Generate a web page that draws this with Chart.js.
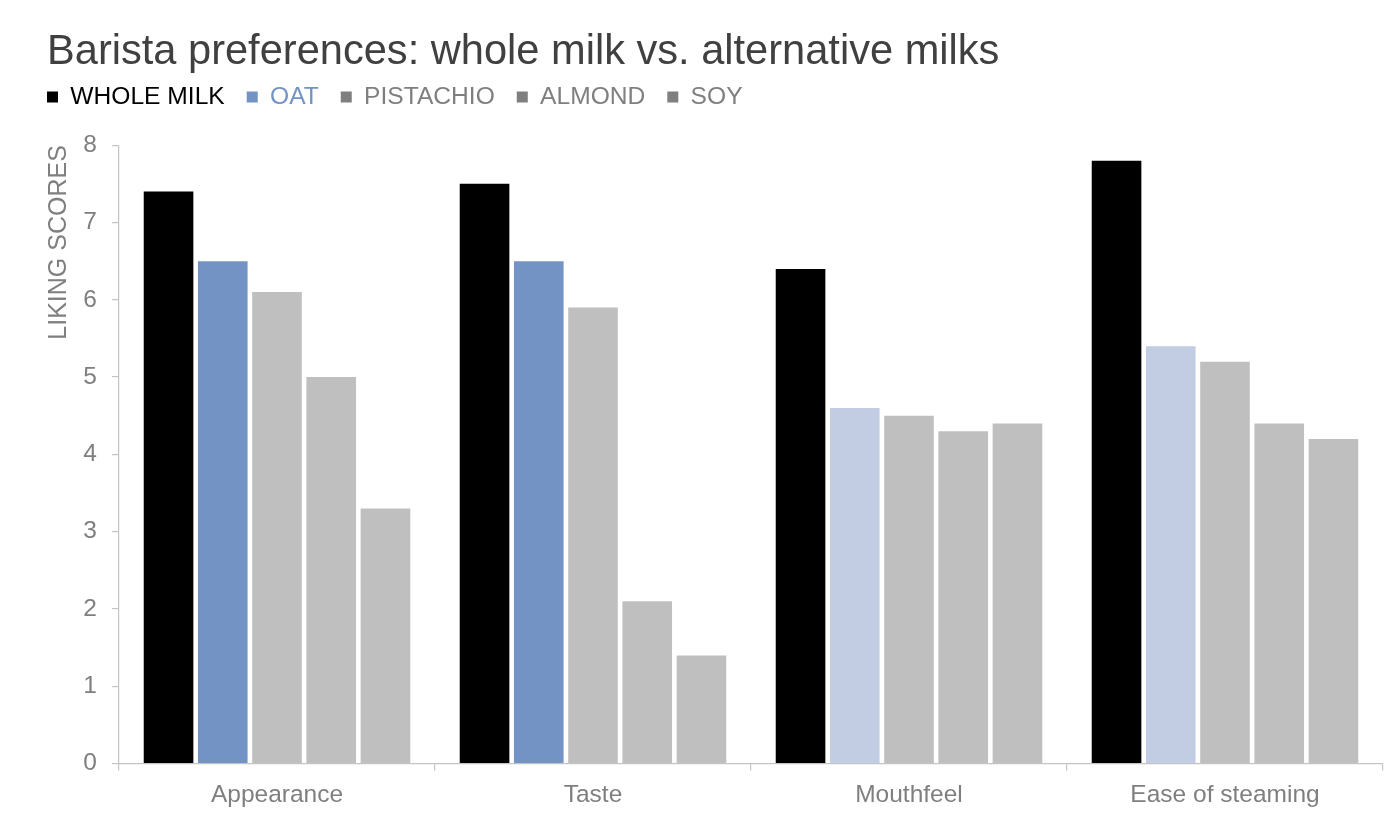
<!DOCTYPE html>
<html>
<head>
<meta charset="utf-8">
<title>Barista preferences</title>
<script src="https://cdn.jsdelivr.net/npm/chart.js@4.4.1/dist/chart.umd.min.js"></script>
<style>
  html, body { margin: 0; padding: 0; background: #ffffff; }
</style>
</head>
<body>
<canvas id="milkChart" width="1391" height="827"></canvas>
<script>
// ---- DATA ----
const categories = ["Appearance", "Taste", "Mouthfeel", "Ease of steaming"];
const milkNames = ["WHOLE MILK", "OAT", "PISTACHIO", "ALMOND", "SOY"];
const wholeMilk = [7.4, 7.5, 6.4, 7.8];
const oat = [6.5, 6.5, 4.6, 5.4];
const pistachio = [6.1, 5.9, 4.5, 5.2];
const almond = [5.0, 2.1, 4.3, 4.4];
const soy = [3.3, 1.4, 4.4, 4.2];
const yTicks = [0, 1, 2, 3, 4, 5, 6, 7, 8];

// ---- COLOURS ----
const BLACK = "#000000";
const OAT_DARK = "#7393C4";
const OAT_LIGHT = "#C2CDE4";
const BAR_GRAY = "#BFBFBF";
const TEXT_GRAY = "#7F7F7F";
const AXIS_GRAY = "#C4C4C4";

// oat is only highlighted for the first two categories
const oatColors = [OAT_DARK, OAT_DARK, OAT_LIGHT, OAT_LIGHT];
const legendBoxColors = [BLACK, OAT_DARK, TEXT_GRAY, TEXT_GRAY, TEXT_GRAY];
const legendTextColors = [BLACK, OAT_DARK, TEXT_GRAY, TEXT_GRAY, TEXT_GRAY];

Chart.defaults.font.family = "'Liberation Sans', Arial, Helvetica, sans-serif";
Chart.defaults.color = TEXT_GRAY;

// legend sits tight under the title, left edge lined up with it,
// with extra room between the legend and the bars
const legendSpacing = {
    id: "legendSpacing",
    beforeInit(chart) {
        const origFit = chart.legend.fit;
        chart.legend.fit = function () {
            origFit.bind(chart.legend)();
            this.height += 15;
        };
    },
    afterLayout(chart) {
        const pad = chart.legend.options.labels.padding;
        chart.legend.left -= pad;
        chart.legend.top -= 11;
    }
};

const seriesData = [wholeMilk, oat, pistachio, almond, soy];
const seriesColors = [BLACK, oatColors, BAR_GRAY, BAR_GRAY, BAR_GRAY];

const ctx = document.getElementById("milkChart").getContext("2d");

new Chart(ctx, {
    type: "bar",
    data: {
        labels: categories,
        datasets: milkNames.map((name, i) => ({
            label: name,
            data: seriesData[i],
            backgroundColor: seriesColors[i],
            borderWidth: 0,
            categoryPercentage: 0.858,
            barPercentage: 0.915
        }))
    },
    options: {
        responsive: false,
        animation: false,
        layout: {
            padding: { top: 32, left: 47, right: 8, bottom: 7 }
        },
        plugins: {
            title: {
                display: true,
                text: "Barista preferences: whole milk vs. alternative milks",
                align: "start",
                color: "#404040",
                font: { size: 41.6, weight: "normal", lineHeight: 1 },
                padding: 0
            },
            legend: {
                display: true,
                position: "top",
                align: "start",
                labels: {
                    boxWidth: 11,
                    boxHeight: 11,
                    padding: 22,
                    font: { size: 24.6 },
                    generateLabels: (chart) => chart.data.datasets.map((ds, i) => ({
                        text: ds.label,
                        fillStyle: legendBoxColors[i],
                        strokeStyle: legendBoxColors[i],
                        lineWidth: 0,
                        fontColor: legendTextColors[i],
                        hidden: false,
                        datasetIndex: i
                    }))
                }
            },
            tooltip: { enabled: false }
        },
        scales: {
            x: {
                grid: {
                    drawOnChartArea: false,
                    drawTicks: true,
                    tickLength: 7,
                    color: AXIS_GRAY,
                    lineWidth: 1.2
                },
                border: { color: AXIS_GRAY, width: 1.2 },
                ticks: {
                    color: TEXT_GRAY,
                    font: { size: 24.5 },
                    padding: 10
                }
            },
            y: {
                min: 0,
                max: 8,
                afterBuildTicks: (scale) => {
                    scale.ticks = yTicks.map(v => ({ value: v }));
                },
                afterFit: (scale) => {
                    scale.width = 72;
                },
                grid: {
                    drawOnChartArea: false,
                    drawTicks: true,
                    tickLength: 7,
                    color: AXIS_GRAY,
                    lineWidth: 1.2
                },
                border: { color: AXIS_GRAY, width: 1.2 },
                ticks: {
                    color: TEXT_GRAY,
                    font: { size: 24.5 },
                    padding: 15
                },
                title: {
                    display: true,
                    text: "LIKING SCORES",
                    align: "end",
                    color: TEXT_GRAY,
                    font: { size: 25, lineHeight: 1 },
                    padding: 0
                }
            }
        }
    },
    plugins: [legendSpacing]
});
</script>
</body>
</html>
